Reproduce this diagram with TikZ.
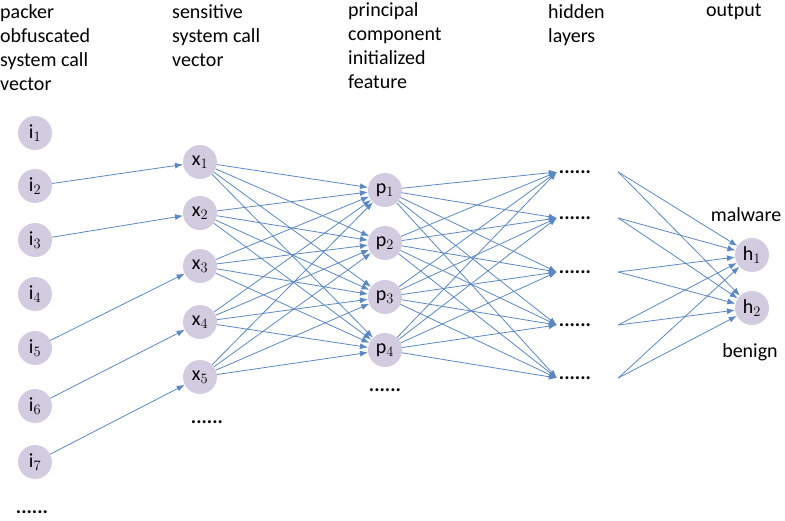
\documentclass[tikz,border=0pt]{standalone}
\usepackage{fontspec}
\setmainfont{Carlito}
\usetikzlibrary{arrows.meta}
\definecolor{nodefill}{HTML}{D3CBDF}
\definecolor{edgeblue}{HTML}{5B87C5}

\tikzset{
  neuron/.style={circle, fill=nodefill, minimum size=34pt, inner sep=0pt},
  dots/.style={inner sep=2pt, font=\fontsize{20}{24}\selectfont\bfseries},
  link/.style={draw=edgeblue, line width=0.8pt, -{Latex[length=8pt,width=6pt]}},
  head/.style={align=left, anchor=north west, inner sep=0pt}
}

\begin{document}
\begin{tikzpicture}[x=1pt,y=-1pt,font=\fontsize{20}{24}\selectfont]
\useasboundingbox (0,0) rectangle (785,521);

% headings
\node[head] at (0,4) {packer\\obfuscated\\system call\\vector};
\node[head] at (172,4) {sensitive\\system call\\vector};
\node[head] at (348,2) {principal\\component\\initialized\\feature};
\node[head] at (548,4) {hidden\\layers};
\node[head] at (706,4) {output};

% input layer
\foreach \n/\y in {1/133,2/186,3/240,4/294,5/348,6/406,7/462}
  \node[neuron] (i\n) at (35,\y) {i$_{\n}$};
\node[dots] at (32,512) {......};

% sensitive system calls
\foreach \n/\y in {1/162,2/213,3/266,4/322,5/377}
  \node[neuron] (x\n) at (200,\y) {x$_{\n}$};
\node[dots] at (207,422) {......};

% principal components
\foreach \n/\y in {1/190,2/243,3/297,4/350}
  \node[neuron] (p\n) at (385,\y) {p$_{\n}$};
\node[dots] at (385,390) {......};

% hidden layers
\foreach \n/\y in {1/172,2/218,3/272,4/325,5/378}
  \node[dots] (d\n) at (575,\y) {......};

% output
\node[neuron] (h1) at (752,255) {h$_{1}$};
\node[neuron] (h2) at (752,308) {h$_{2}$};
\node at (746,215) {malware};
\node at (750,352) {benign};

% connections
\foreach \a/\b in {i2/x1,i3/x2,i5/x3,i6/x4,i7/x5}
  \draw[link] (\a) -- (\b);
\foreach \a in {1,...,5}
  \foreach \b in {1,...,4}
    \draw[link] (x\a) -- (p\b);
\foreach \a in {1,...,4}
  \foreach \b in {1,...,5}
    \draw[link] (p\a) -- (d\b.west);
\foreach \a in {1,...,5}
  \foreach \b in {1,2}
    \draw[link] ([xshift=25pt]d\a.east) -- (h\b);
\end{tikzpicture}
\end{document}
